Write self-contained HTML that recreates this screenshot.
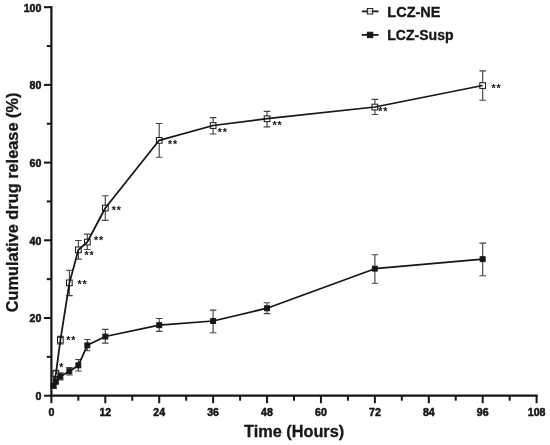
<!DOCTYPE html>
<html><head><meta charset="utf-8"><title>Cumulative drug release</title>
<style>html,body{margin:0;padding:0;background:#fff}svg{display:block}text{font-family:"Liberation Sans",Arial,Helvetica,sans-serif;font-weight:bold;fill:#141414}.tk{font-size:10.6px;stroke:#141414;stroke-width:.5px}.ax{font-size:16.4px;stroke:#141414;stroke-width:.3px}.lg{font-size:14.3px;stroke:#141414;stroke-width:.3px}.st{font-size:10.6px;letter-spacing:.9px;stroke:#141414;stroke-width:.05px}</style></head><body>
<svg width="550" height="445" viewBox="0 0 550 445">
<rect width="550" height="445" fill="#fff"/>
<defs><filter id="soft" x="0" y="0" width="550" height="445" filterUnits="userSpaceOnUse"><feGaussianBlur stdDeviation="0.38"/></filter></defs>
<g filter="url(#soft)">
<g stroke="#141414" stroke-width="2.2" fill="none">
<path d="M51.4 6.10V396.80M50.30 395.7H537.70"/>
</g>
<g stroke="#141414" stroke-width="2" fill="none">
<path d="M44.00 395.70H51.4"/>
<path d="M46.80 356.85H51.4"/>
<path d="M44.00 318.00H51.4"/>
<path d="M46.80 279.15H51.4"/>
<path d="M44.00 240.30H51.4"/>
<path d="M46.80 201.45H51.4"/>
<path d="M44.00 162.60H51.4"/>
<path d="M46.80 123.75H51.4"/>
<path d="M44.00 84.90H51.4"/>
<path d="M46.80 46.05H51.4"/>
<path d="M44.00 7.20H51.4"/>
<path d="M51.40 395.7V403.20"/>
<path d="M78.36 395.7V400.70"/>
<path d="M105.31 395.7V403.20"/>
<path d="M132.27 395.7V400.70"/>
<path d="M159.22 395.7V403.20"/>
<path d="M186.18 395.7V400.70"/>
<path d="M213.13 395.7V403.20"/>
<path d="M240.09 395.7V400.70"/>
<path d="M267.04 395.7V403.20"/>
<path d="M294.00 395.7V400.70"/>
<path d="M320.96 395.7V403.20"/>
<path d="M347.91 395.7V400.70"/>
<path d="M374.87 395.7V403.20"/>
<path d="M401.82 395.7V400.70"/>
<path d="M428.78 395.7V403.20"/>
<path d="M455.73 395.7V400.70"/>
<path d="M482.69 395.7V403.20"/>
<path d="M509.65 395.7V400.70"/>
<path d="M536.60 395.7V403.20"/>
</g>
<text class="tk" x="41.4" y="400.1" text-anchor="end">0</text>
<text class="tk" x="41.4" y="322.4" text-anchor="end">20</text>
<text class="tk" x="41.4" y="244.7" text-anchor="end">40</text>
<text class="tk" x="41.4" y="167.0" text-anchor="end">60</text>
<text class="tk" x="41.4" y="89.3" text-anchor="end">80</text>
<text class="tk" x="41.4" y="11.6" text-anchor="end">100</text>
<text class="tk" x="51.4" y="415.6" text-anchor="middle">0</text>
<text class="tk" x="105.3" y="415.6" text-anchor="middle">12</text>
<text class="tk" x="159.2" y="415.6" text-anchor="middle">24</text>
<text class="tk" x="213.1" y="415.6" text-anchor="middle">36</text>
<text class="tk" x="267.0" y="415.6" text-anchor="middle">48</text>
<text class="tk" x="321.0" y="415.6" text-anchor="middle">60</text>
<text class="tk" x="374.9" y="415.6" text-anchor="middle">72</text>
<text class="tk" x="428.8" y="415.6" text-anchor="middle">84</text>
<text class="tk" x="482.7" y="415.6" text-anchor="middle">96</text>
<text class="tk" x="536.6" y="415.6" text-anchor="middle">108</text>
<text class="ax" x="244" y="436.7" textLength="100.2" lengthAdjust="spacingAndGlyphs">Time (Hours)</text>
<text class="ax" transform="translate(17.7,312.2) rotate(-90)" textLength="219.6" lengthAdjust="spacingAndGlyphs">Cumulative drug release (%)</text>
<g stroke="#444" stroke-width="1.15" fill="none">
<path d="M55.9 370.4V377.6M52.6 370.4h6.6M52.6 377.6h6.6"/>
<path d="M60.4 336.4V344.0M57.1 336.4h6.6M57.1 344.0h6.6"/>
<path d="M69.4 270.2V295.6M66.1 270.2h6.6M66.1 295.6h6.6"/>
<path d="M78.4 240.5V259.1M75.1 240.5h6.6M75.1 259.1h6.6"/>
<path d="M87.3 234.1V249.5M84.0 234.1h6.6M84.0 249.5h6.6"/>
<path d="M105.3 195.7V220.4M102.0 195.7h6.6M102.0 220.4h6.6"/>
<path d="M159.2 123.5V157.2M155.9 123.5h6.6M155.9 157.2h6.6"/>
<path d="M213.1 117.6V134.0M209.8 117.6h6.6M209.8 134.0h6.6"/>
<path d="M267.0 111.3V126.9M263.7 111.3h6.6M263.7 126.9h6.6"/>
<path d="M374.9 99.4V114.5M371.6 99.4h6.6M371.6 114.5h6.6"/>
<path d="M482.7 70.9V100.2M479.4 70.9h6.6M479.4 100.2h6.6"/>
</g>
<g stroke="#141414" stroke-width="1" fill="#fff">
<rect x="53.0" y="370.9" width="5.7" height="5.7"/>
<rect x="57.5" y="337.3" width="5.7" height="5.7"/>
<rect x="66.5" y="280.0" width="5.7" height="5.7"/>
<rect x="75.5" y="247.0" width="5.7" height="5.7"/>
<rect x="84.5" y="239.2" width="5.7" height="5.7"/>
<rect x="102.5" y="205.2" width="5.7" height="5.7"/>
<rect x="156.4" y="137.5" width="5.7" height="5.7"/>
<rect x="210.3" y="122.7" width="5.7" height="5.7"/>
<rect x="264.2" y="115.9" width="5.7" height="5.7"/>
<rect x="372.0" y="104.2" width="5.7" height="5.7"/>
<rect x="479.8" y="82.7" width="5.7" height="5.7"/>
</g>
<polyline fill="none" stroke="#141414" stroke-width="1.75" stroke-linejoin="round" points="53.6,384.5 55.9,373.8 60.4,340.2 69.4,282.9 78.4,249.8 87.3,242.0 105.3,208.0 159.2,140.3 213.1,125.5 267.0,118.7 374.9,107.0 482.7,85.5"/>
<g stroke="#444" stroke-width="1.15" fill="none">
<path d="M53.6 383.2V388.2M50.3 383.2h6.6M50.3 388.2h6.6"/>
<path d="M55.9 379.0V384.0M52.6 379.0h6.6M52.6 384.0h6.6"/>
<path d="M60.4 372.9V379.9M57.1 372.9h6.6M57.1 379.9h6.6"/>
<path d="M69.4 367.6V375.0M66.1 367.6h6.6M66.1 375.0h6.6"/>
<path d="M78.4 359.5V371.0M75.1 359.5h6.6M75.1 371.0h6.6"/>
<path d="M87.3 339.5V350.7M84.0 339.5h6.6M84.0 350.7h6.6"/>
<path d="M105.3 329.4V343.1M102.0 329.4h6.6M102.0 343.1h6.6"/>
<path d="M159.2 318.5V331.4M155.9 318.5h6.6M155.9 331.4h6.6"/>
<path d="M213.1 310.1V332.7M209.8 310.1h6.6M209.8 332.7h6.6"/>
<path d="M267.0 302.7V313.6M263.7 302.7h6.6M263.7 313.6h6.6"/>
<path d="M374.9 254.7V283.2M371.6 254.7h6.6M371.6 283.2h6.6"/>
<path d="M482.7 243.1V275.7M479.4 243.1h6.6M479.4 275.7h6.6"/>
</g>
<polyline fill="none" stroke="#141414" stroke-width="1.75" stroke-linejoin="round" points="53.6,385.7 55.9,381.5 60.4,376.4 69.4,371.2 78.4,365.4 87.3,345.3 105.3,336.5 159.2,325.1 213.1,321.0 267.0,308.2 374.9,268.7 482.7,259.1"/>
<g stroke="#141414" stroke-width="1" fill="#141414">
<rect x="51.2" y="383.2" width="4.9" height="4.9"/>
<rect x="53.4" y="379.1" width="4.9" height="4.9"/>
<rect x="57.9" y="373.9" width="4.9" height="4.9"/>
<rect x="66.9" y="368.8" width="4.9" height="4.9"/>
<rect x="75.9" y="362.9" width="4.9" height="4.9"/>
<rect x="84.9" y="342.9" width="4.9" height="4.9"/>
<rect x="102.9" y="334.1" width="4.9" height="4.9"/>
<rect x="156.8" y="322.7" width="4.9" height="4.9"/>
<rect x="210.7" y="318.6" width="4.9" height="4.9"/>
<rect x="264.6" y="305.8" width="4.9" height="4.9"/>
<rect x="372.4" y="266.2" width="4.9" height="4.9"/>
<rect x="480.2" y="256.7" width="4.9" height="4.9"/>
</g>
<text class="st" x="66.3" y="344.1">**</text>
<text class="st" x="77.4" y="288.4">**</text>
<text class="st" x="84.6" y="258.9">**</text>
<text class="st" x="93.9" y="243.7">**</text>
<text class="st" x="111.8" y="214.1">**</text>
<text class="st" x="168.1" y="147.6">**</text>
<text class="st" x="217.8" y="136.0">**</text>
<text class="st" x="272.4" y="128.6">**</text>
<text class="st" x="378.3" y="114.9">**</text>
<text class="st" x="491.6" y="91.6">**</text>
<text class="st" x="59.3" y="370.7">*</text>
<g stroke="#141414" stroke-width="1.8"><path d="M361.9 11.3h16.6M361.9 34.9h16.6"/></g>
<g stroke="#141414" stroke-width="1"><rect x="367.3" y="8.6" width="5.4" height="5.4" fill="#fff" fill-opacity=".75"/><rect x="367.4" y="32.2" width="5.4" height="5.4" fill="#141414"/></g>
<text class="lg" x="387.3" y="16.8" textLength="53.2" lengthAdjust="spacingAndGlyphs">LCZ-NE</text>
<text class="lg" x="387.3" y="40.0" textLength="66.2" lengthAdjust="spacingAndGlyphs">LCZ-Susp</text>
</g>
</svg></body></html>
